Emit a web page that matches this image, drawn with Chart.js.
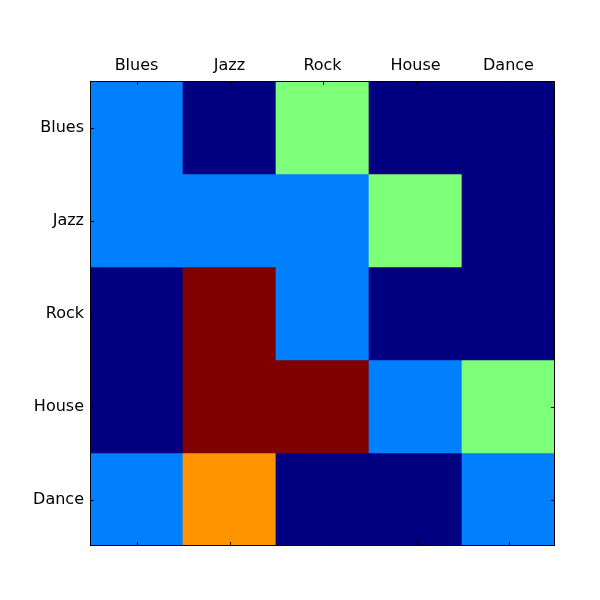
<!DOCTYPE html>
<html>
<head>
<meta charset="utf-8">
<script src="https://cdn.jsdelivr.net/npm/chart.js@4.4.0/dist/chart.umd.min.js"></script>
<style>
  body { margin: 0; background: #fff; }
</style>
</head>
<body>
<canvas id="myChart" width="600" height="600"></canvas>
<script>
// confusion matrix: rows = actual, columns = predicted
var genres = ["Blues", "Jazz", "Rock", "House", "Dance"];
var rowBlues = [1, 0, 2, 0, 0];
var rowJazz  = [1, 1, 1, 2, 0];
var rowRock  = [0, 4, 1, 0, 0];
var rowHouse = [0, 4, 4, 1, 2];
var rowDance = [1, 3, 0, 0, 1];
var matrix = [rowBlues, rowJazz, rowRock, rowHouse, rowDance];

// jet colormap sampled at 0, .25, .5, .75, 1 (max count is 4)
var jet = ["#000080", "#0080ff", "#7dff7a", "#ff9400", "#800000"];

var datasets = matrix.map(function(row, r){
  return {
    label: genres[r],
    data: row.map(function(v){ return [r - 0.5, r + 0.5]; }),
    backgroundColor: row.map(function(v){ return jet[v]; }),
    borderWidth: 0,
    grouped: false,
    barPercentage: 1,
    categoryPercentage: 1
  };
});

// frame + inward ticks like matplotlib
var frameTicks = {
  id: "frameTicks",
  afterDraw: function(chart){
    var a = chart.chartArea, c = chart.ctx;
    var xs = chart.scales.x, ys = chart.scales.y;
    c.save();
    c.strokeStyle = "#000";
    c.lineWidth = 1;
    c.beginPath();
    for (var i = 0; i < genres.length; i++) {
      var px = Math.round(xs.getPixelForValue(i)) + 0.5;
      c.moveTo(px, a.top); c.lineTo(px, a.top + 4);
      c.moveTo(px, a.bottom); c.lineTo(px, a.bottom - 4);
      var py = Math.round(ys.getPixelForValue(i)) + 0.5;
      c.moveTo(a.left, py); c.lineTo(a.left + 4, py);
      c.moveTo(a.right, py); c.lineTo(a.right - 4, py);
    }
    c.stroke();
    c.strokeRect(a.left + 0.5, a.top + 0.5, a.right - a.left - 1, a.bottom - a.top - 1);
    c.restore();
  }
};

var ctx = document.getElementById("myChart");
var myChart = new Chart(ctx, {
  type: "bar",
  data: { labels: genres, datasets: datasets },
  options: {
    responsive: false,
    animation: false,
    layout: { padding: { left: 0, right: 45, top: 0, bottom: 54 } },
    plugins: { legend: { display: false }, tooltip: { enabled: false } },
    scales: {
      x: {
        position: "top",
        offset: true,
        grid: { display: false, drawTicks: false },
        border: { display: false },
        ticks: { color: "#000", padding: 6, font: { family: "DejaVu Sans", size: 16 } },
        afterFit: function(s){ s.height = 81; }
      },
      y: {
        type: "linear",
        reverse: true,
        min: -0.5,
        max: 4.5,
        grid: { display: false, drawTicks: false },
        border: { display: false },
        afterBuildTicks: function(s){
          s.ticks = genres.map(function(g, i){ return { value: i }; });
        },
        ticks: {
          color: "#000",
          padding: 6,
          font: { family: "DejaVu Sans", size: 16 },
          callback: function(v){ return genres[v]; }
        },
        afterFit: function(s){ s.width = 90; }
      }
    }
  },
  plugins: [frameTicks]
});
</script>
</body>
</html>
